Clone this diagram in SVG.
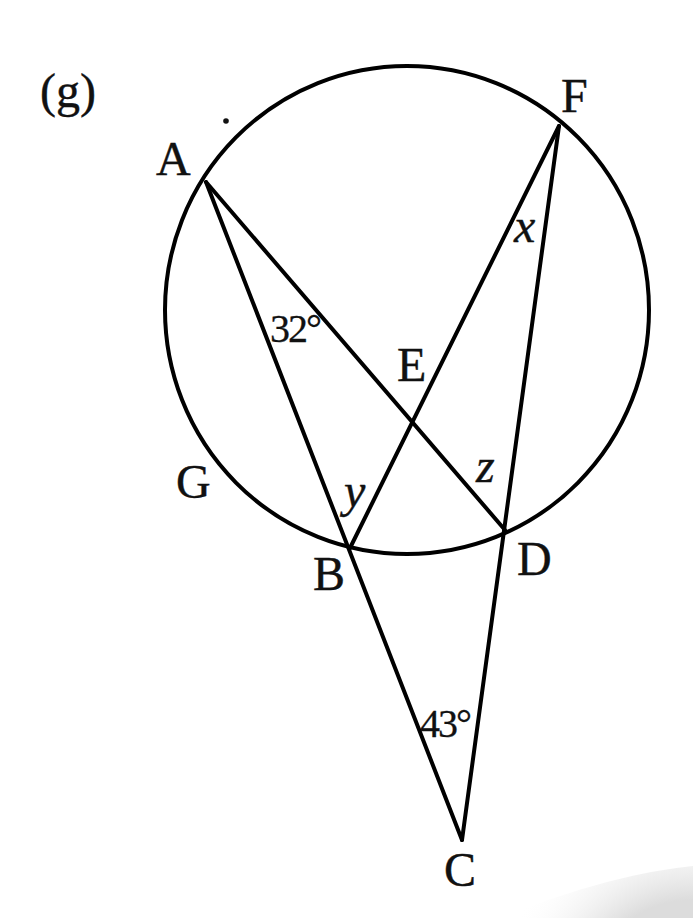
<svg xmlns="http://www.w3.org/2000/svg" width="693" height="918" viewBox="0 0 693 918">
<style>
.ln{stroke:#000;stroke-width:4;fill:none;stroke-linecap:round}
.lb{font-family:"Liberation Serif","Times New Roman",serif;font-size:48px;fill:#111;stroke:#111;stroke-width:0.4}
.it{font-family:"Liberation Serif","Times New Roman",serif;font-size:48px;font-style:italic;fill:#111;stroke:#111;stroke-width:0.4}
.ang{font-family:"Liberation Serif","Times New Roman",serif;font-size:40px;letter-spacing:-2px;fill:#111;stroke:#111;stroke-width:0.3}
</style>
<defs>
<radialGradient id="sh" cx="693" cy="1010" r="200" gradientUnits="userSpaceOnUse">
<stop offset="0.55" stop-color="#dcdcdc"/>
<stop offset="1" stop-color="#ffffff" stop-opacity="0"/>
</radialGradient>
</defs>
<rect width="693" height="918" fill="#fff"/>
<path d="M500 918 Q610 874 693 866 L693 918 Z" fill="url(#sh)"/>
<g id="circle"><ellipse class="ln" cx="407" cy="310" rx="242" ry="244"/></g>
<g id="connectors">
<line class="ln" x1="206" y1="182" x2="462" y2="840"/>
<line class="ln" x1="206" y1="182" x2="505" y2="530"/>
<line class="ln" x1="559" y1="126" x2="462" y2="840"/>
<line class="ln" x1="559" y1="126" x2="350" y2="548"/>
</g>
<circle cx="226" cy="121" r="2.8" fill="#111"/>
<g id="label-g"><text class="lb" x="40" y="107" font-size="50">(g)</text></g>
<g id="node-A"><text class="lb" x="156" y="175">A</text></g>
<g id="node-F"><text class="lb" x="561" y="112">F</text></g>
<g id="node-E"><text class="lb" x="397" y="381">E</text></g>
<g id="node-G"><text class="lb" x="176" y="498">G</text></g>
<g id="node-B"><text class="lb" x="313" y="590">B</text></g>
<g id="node-D"><text class="lb" x="517" y="575">D</text></g>
<g id="node-C"><text class="lb" x="444" y="886">C</text></g>
<g id="angles">
<text class="it" x="514" y="242">x</text>
<text class="it" x="344" y="507">y</text>
<text class="it" x="476" y="482">z</text>
<text class="ang" x="270" y="342">32°</text>
<text class="ang" x="420" y="737">43°</text>
</g>
</svg>
